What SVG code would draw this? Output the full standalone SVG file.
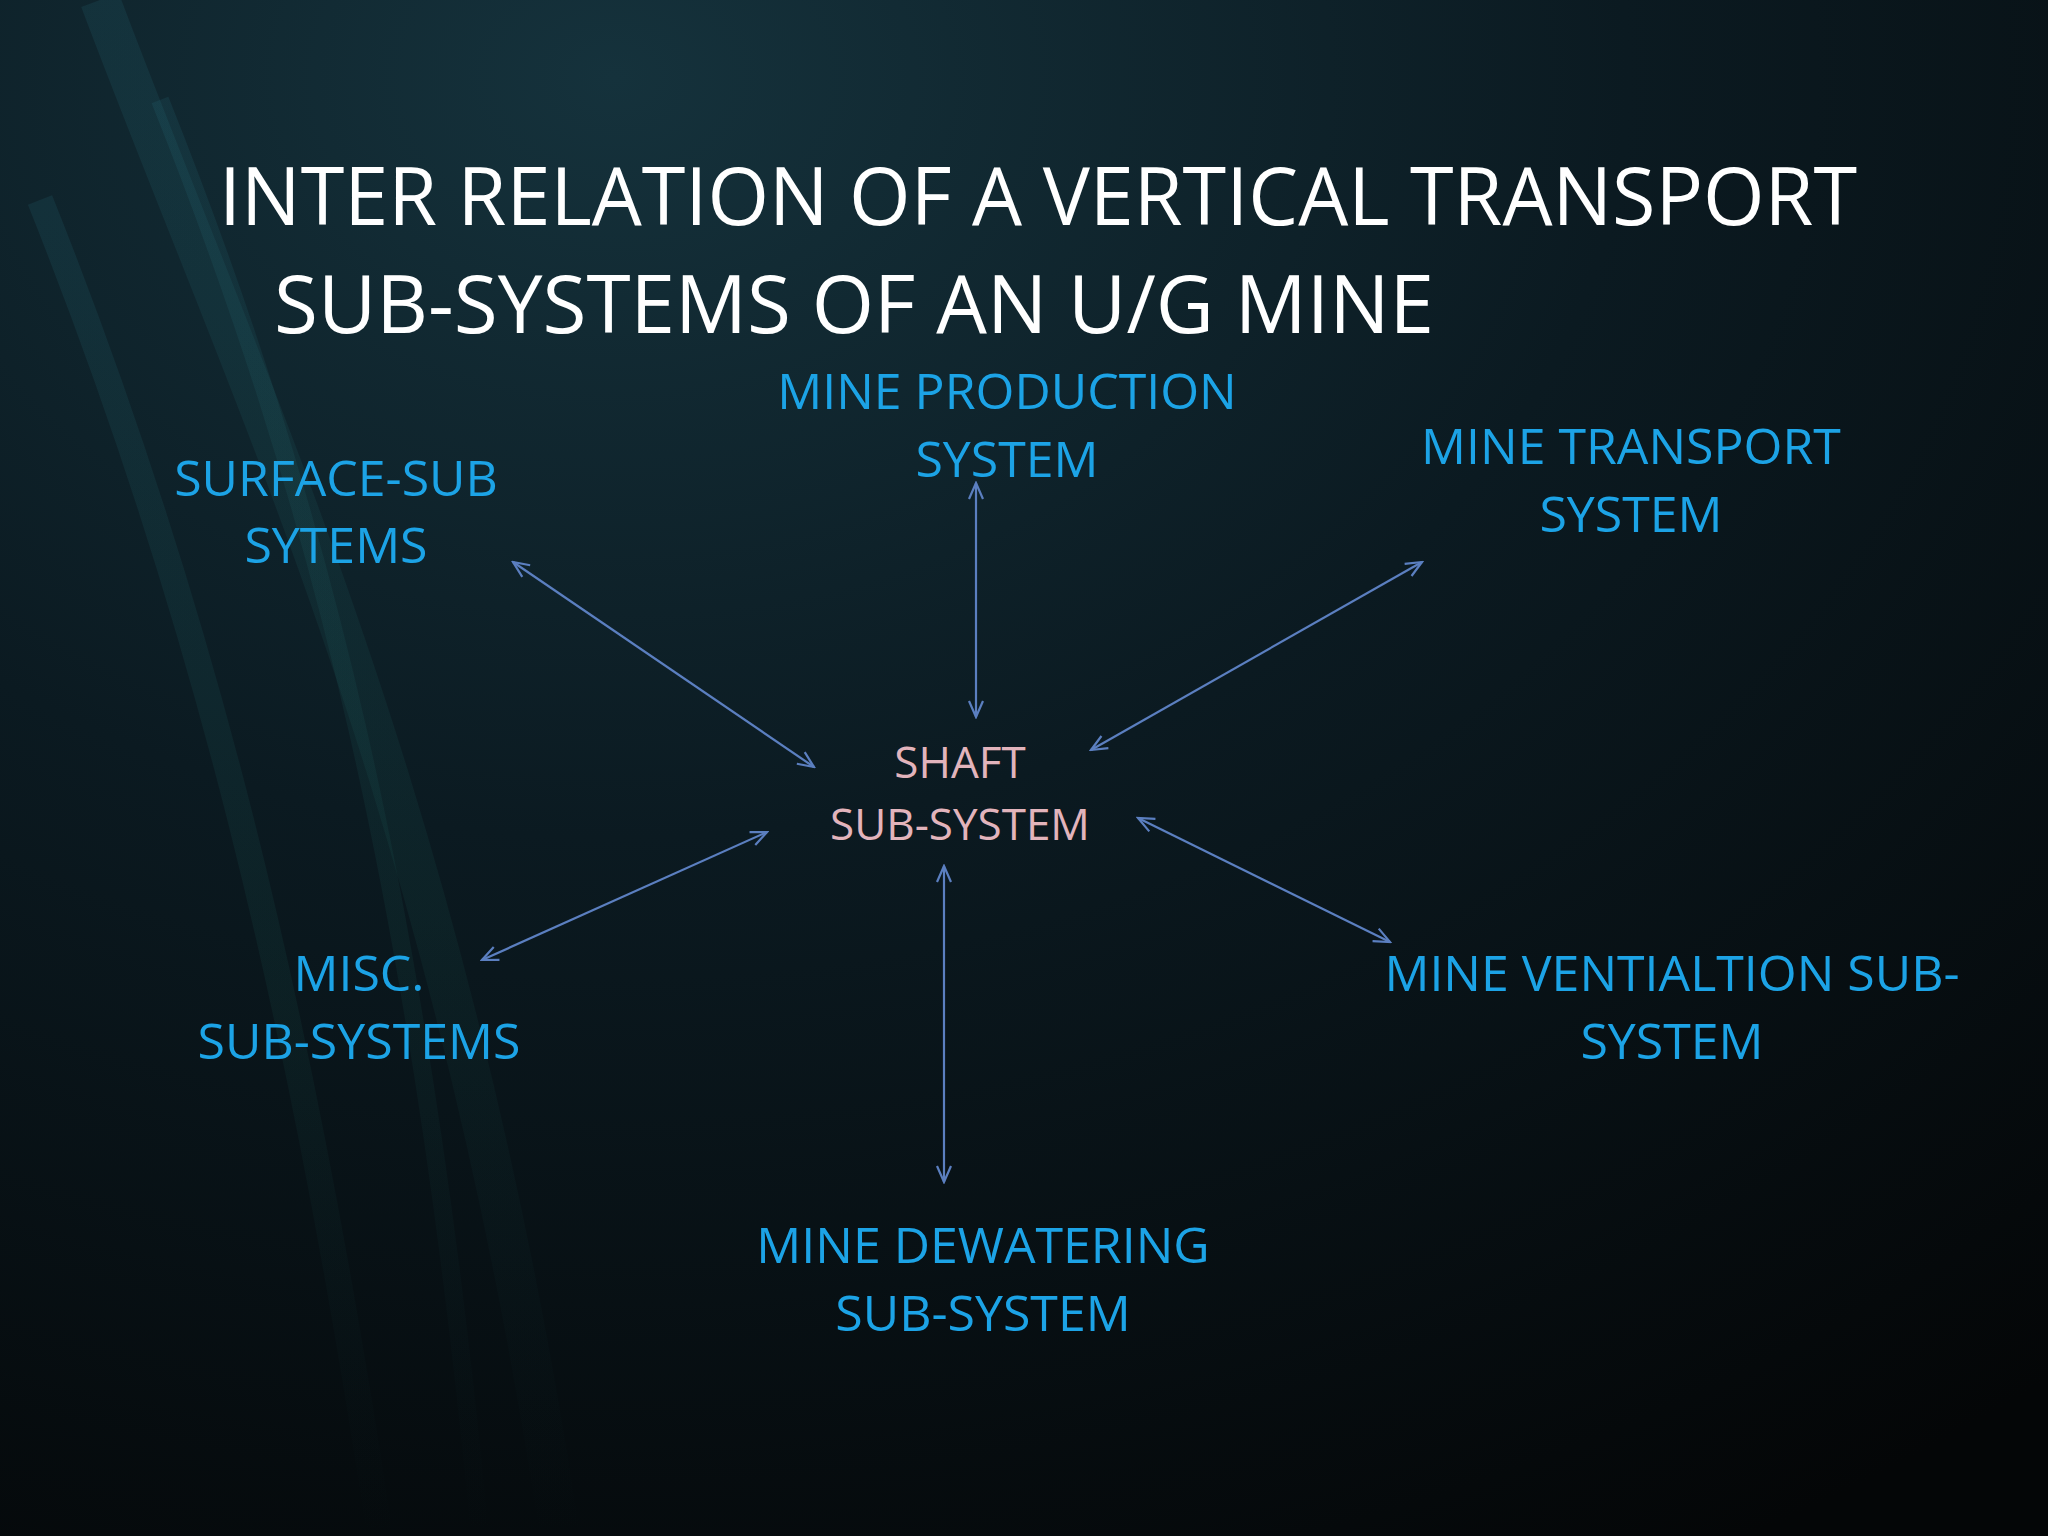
<svg xmlns="http://www.w3.org/2000/svg" width="2048" height="1536" viewBox="0 0 2048 1536">
<defs>
<radialGradient id="bg" cx="0.3" cy="0.05" r="1.1">
<stop offset="0" stop-color="#15323c"/>
<stop offset="0.45" stop-color="#0b1a21"/>
<stop offset="1" stop-color="#040607"/>
</radialGradient>
<linearGradient id="sw" x1="0" y1="0" x2="0" y2="1">
<stop offset="0" stop-color="#2a7a8a" stop-opacity="0.15"/>
<stop offset="0.6" stop-color="#1f6a60" stop-opacity="0.12"/>
<stop offset="1" stop-color="#1a4a50" stop-opacity="0"/>
</linearGradient>
<marker id="ah" viewBox="0 0 20 20" refX="18" refY="10" markerWidth="20" markerHeight="20" markerUnits="userSpaceOnUse" orient="auto-start-reverse">
<path d="M2,3 L18,10 L2,17" fill="none" stroke="#5b7fc0" stroke-width="2.2"/>
</marker>
</defs>
<style>
.t{font-family:"Open Sans","Liberation Sans",sans-serif;fill:#ffffff;font-size:80px}
.l{font-family:"Open Sans","Liberation Sans",sans-serif;fill:#1ca3e6;font-size:50px;text-anchor:middle}
.c{font-family:"Open Sans","Liberation Sans",sans-serif;fill:#e2b4bc;font-size:44px;text-anchor:middle}
.a{stroke:#5b7fc0;stroke-width:2.2;fill:none;marker-start:url(#ah);marker-end:url(#ah)}
</style>
<rect width="2048" height="1536" fill="url(#bg)"/>
<g fill="none" stroke="url(#sw)">
<path d="M100,0 C250,400 450,800 560,1536" stroke-width="40"/>
<path d="M160,100 C320,500 420,900 480,1536" stroke-width="18"/>
<path d="M40,200 C200,600 300,1000 380,1536" stroke-width="26"/>
</g>
<g id="title">
<text class="t" x="219" y="225" textLength="1638" lengthAdjust="spacingAndGlyphs">INTER RELATION OF A VERTICAL TRANSPORT</text>
<text class="t" x="274" y="333" textLength="1160" lengthAdjust="spacingAndGlyphs">SUB-SYSTEMS OF AN U/G MINE</text>
</g>
<g id="connectors">
<line class="a" x1="976" y1="483" x2="976" y2="717"/>
<line class="a" x1="513" y1="562" x2="814" y2="767"/>
<line class="a" x1="1422" y1="562" x2="1091" y2="750"/>
<line class="a" x1="767" y1="832" x2="482" y2="960"/>
<line class="a" x1="1138" y1="818" x2="1390" y2="942"/>
<line class="a" x1="944" y1="866" x2="944" y2="1182"/>
</g>
<g id="production"><text class="l" x="1007" y="409">MINE PRODUCTION</text><text class="l" x="1007" y="477">SYSTEM</text></g>
<g id="surface"><text class="l" x="336" y="496">SURFACE-SUB</text><text class="l" x="336" y="563">SYTEMS</text></g>
<g id="transport"><text class="l" x="1631" y="464">MINE TRANSPORT</text><text class="l" x="1631" y="532">SYSTEM</text></g>
<g id="shaft"><text class="c" x="960" y="778">SHAFT</text><text class="c" x="960" y="840">SUB-SYSTEM</text></g>
<g id="misc"><text class="l" x="359" y="991">MISC.</text><text class="l" x="359" y="1059">SUB-SYSTEMS</text></g>
<g id="ventilation"><text class="l" x="1672" y="991">MINE VENTIALTION SUB-</text><text class="l" x="1672" y="1059">SYSTEM</text></g>
<g id="dewatering"><text class="l" x="983" y="1263">MINE DEWATERING</text><text class="l" x="983" y="1331">SUB-SYSTEM</text></g>
</svg>
